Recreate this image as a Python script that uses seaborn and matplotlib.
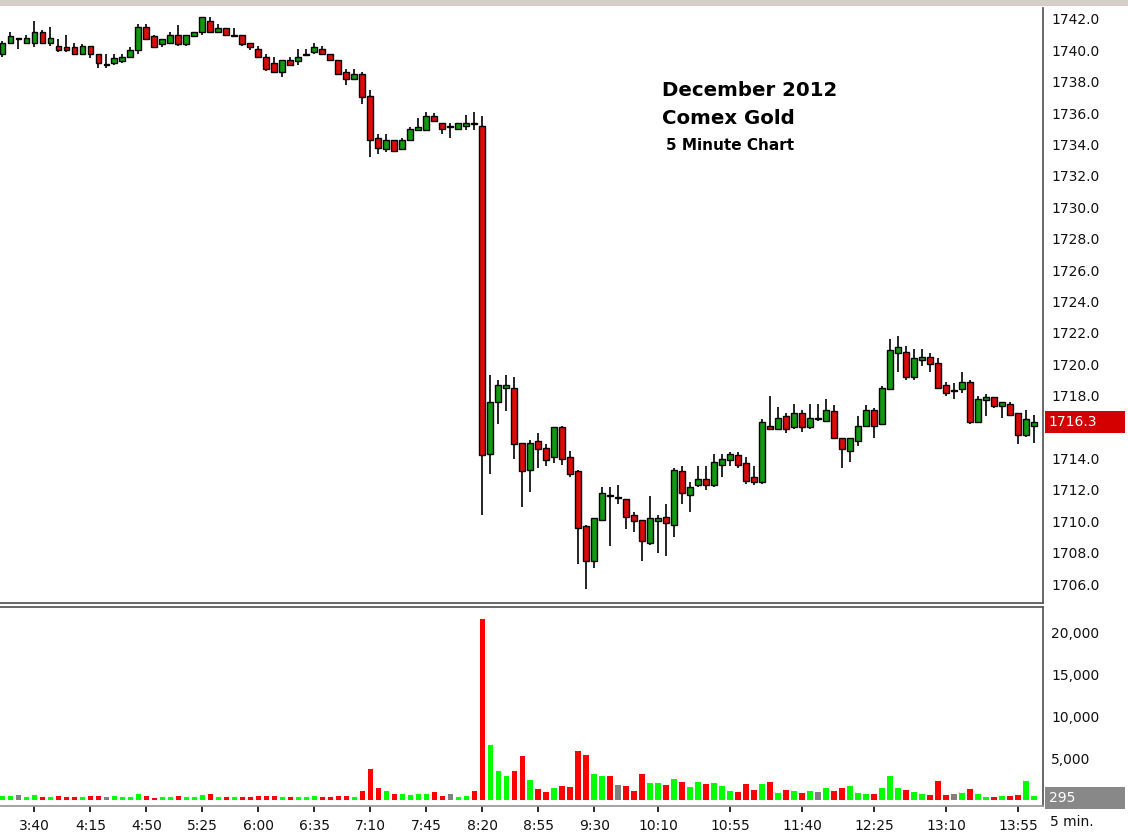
import matplotlib
matplotlib.use("Agg")
import matplotlib.pyplot as plt
import seaborn as sns
import numpy as np
from matplotlib.patches import Rectangle

opens = [1739.8,1740.5,1740.7,1740.5,1740.5,1741.2,1740.5,1740.3,1740.2,1740.2,
 1739.8,1740.3,1739.8,1739.1,1739.2,1739.3,1739.6,1740.0,1741.5,1740.9,
 1740.4,1740.5,1741.0,1740.4,1740.9,1741.2,1741.9,1741.2,1741.4,1740.9,
 1741.0,1740.5,1740.1,1739.6,1739.2,1738.6,1739.4,1739.3,1739.7,1739.9,
 1740.1,1739.8,1739.4,1738.6,1738.2,1738.5,1737.1,1734.4,1733.7,1734.3,
 1733.7,1734.3,1734.9,1734.9,1735.8,1735.4,1735.1,1735.0,1735.2,1735.4,
 1735.2,1714.3,1717.6,1718.5,1718.5,1715.0,1713.3,1715.1,1714.7,1714.1,
 1716.0,1714.1,1713.2,1709.7,1707.5,1710.1,1711.7,1711.5,1711.4,1710.4,
 1710.1,1708.6,1710.0,1710.3,1709.8,1713.2,1711.7,1712.3,1712.7,1712.3,
 1713.6,1713.9,1714.2,1713.7,1712.8,1712.5,1716.1,1715.9,1716.7,1716.0,
 1716.9,1716.0,1716.5,1716.4,1717.0,1715.3,1714.5,1715.1,1716.1,1717.1,
 1716.2,1718.4,1720.7,1720.8,1719.2,1720.3,1720.5,1720.1,1718.7,1718.3,
 1718.4,1718.9,1716.3,1717.7,1717.9,1717.35,1717.5,1716.9,1715.5,1716.1]
highs = [1740.6,1741.2,1740.8,1741.0,1741.9,1741.3,1741.5,1740.7,1741.0,1740.5,
 1740.4,1740.3,1739.8,1739.8,1739.8,1739.8,1740.2,1741.7,1741.7,1741.0,
 1740.7,1741.2,1741.6,1741.0,1741.2,1742.1,1742.1,1741.7,1741.4,1741.4,
 1741.0,1740.5,1740.3,1739.8,1739.6,1739.4,1739.6,1740.1,1740.1,1740.5,
 1740.3,1739.8,1739.4,1738.8,1738.8,1738.6,1737.5,1734.7,1734.7,1734.3,
 1734.4,1735.1,1735.7,1736.1,1736.0,1735.4,1735.4,1735.4,1735.9,1736.1,
 1735.8,1719.3,1719.0,1719.3,1719.2,1715.0,1715.2,1715.6,1714.9,1716.0,
 1716.1,1714.5,1713.3,1709.8,1710.2,1712.2,1712.2,1712.3,1711.4,1710.6,
 1710.1,1711.6,1710.4,1711.1,1713.4,1713.5,1712.5,1713.5,1713.5,1714.3,
 1714.3,1714.4,1714.4,1714.1,1713.5,1716.5,1718.0,1717.3,1716.9,1717.5,
 1717.1,1717.5,1717.5,1717.8,1717.4,1715.3,1715.3,1716.7,1717.4,1717.2,
 1718.6,1721.6,1721.8,1721.2,1721.0,1721.0,1720.7,1720.4,1718.9,1718.8,
 1719.5,1719.0,1718.0,1718.1,1717.9,1717.6,1717.6,1716.9,1717.1,1716.8]
lows = [1739.6,1740.4,1740.1,1740.4,1740.2,1740.4,1740.3,1739.9,1739.9,1739.7,
 1739.7,1739.5,1738.9,1738.9,1739.1,1739.2,1739.5,1739.8,1740.7,1740.2,
 1740.2,1740.4,1740.3,1740.3,1740.9,1741.0,1741.2,1741.2,1741.0,1740.9,
 1740.3,1740.0,1739.5,1738.7,1738.6,1738.3,1739.1,1739.1,1739.7,1739.8,
 1739.8,1739.3,1738.5,1737.8,1738.2,1736.6,1733.2,1733.4,1733.5,1733.5,
 1733.7,1734.3,1734.9,1734.9,1735.5,1734.7,1734.4,1734.9,1734.9,1734.9,
 1710.4,1713.0,1716.2,1717.0,1714.0,1710.9,1711.9,1713.4,1713.5,1713.7,
 1713.6,1712.8,1707.3,1705.7,1707.0,1710.0,1708.4,1711.1,1709.5,1709.3,
 1707.5,1708.5,1708.0,1707.8,1709.0,1711.1,1710.6,1712.2,1712.0,1712.2,
 1712.8,1713.5,1713.4,1712.4,1712.3,1712.4,1715.9,1715.9,1715.6,1715.9,
 1715.7,1715.9,1716.4,1716.4,1715.3,1713.4,1713.8,1714.8,1716.0,1715.3,
 1716.2,1718.4,1719.5,1719.0,1719.0,1719.9,1719.5,1718.5,1718.0,1717.8,
 1718.2,1716.2,1716.3,1716.7,1717.2,1716.6,1716.8,1714.9,1715.4,1715.0]
closes = [1740.5,1740.9,1740.7,1740.8,1741.2,1740.5,1740.8,1740.0,1740.0,1739.8,
 1740.3,1739.8,1739.2,1739.1,1739.5,1739.6,1740.0,1741.5,1740.7,1740.2,
 1740.7,1741.0,1740.4,1741.0,1741.2,1742.1,1741.2,1741.4,1741.0,1741.0,
 1740.4,1740.2,1739.6,1738.8,1738.6,1739.4,1739.1,1739.6,1739.8,1740.2,
 1739.8,1739.4,1738.5,1738.2,1738.5,1737.0,1734.3,1733.8,1734.3,1733.6,
 1734.3,1735.0,1735.1,1735.8,1735.5,1735.0,1735.1,1735.4,1735.4,1735.3,
 1714.2,1717.6,1718.7,1718.7,1714.9,1713.2,1715.0,1714.6,1713.9,1716.0,
 1714.0,1713.0,1709.6,1707.5,1710.2,1711.8,1711.6,1711.5,1710.3,1710.0,
 1708.75,1710.2,1710.2,1709.9,1713.3,1711.8,1712.2,1712.7,1712.3,1713.8,
 1714.0,1714.3,1713.6,1712.6,1712.5,1716.3,1715.9,1716.6,1715.9,1716.9,
 1716.0,1716.6,1716.5,1717.1,1715.3,1714.6,1715.3,1716.1,1717.1,1716.1,
 1718.5,1720.9,1721.1,1719.2,1720.4,1720.5,1720.0,1718.5,1718.2,1718.3,
 1718.9,1716.3,1717.8,1717.9,1717.35,1717.6,1716.8,1715.5,1716.5,1716.3]
volumes = [485,485,606,364,606,364,364,485,364,364,
 364,485,485,364,485,364,364,727,485,242,
 364,364,485,364,364,606,727,364,364,364,
 364,364,485,485,485,364,364,364,364,485,
 364,364,485,485,364,1090,3757,1454,1090,727,
 727,606,727,727,970,485,727,364,485,1090,
 21600,6545,3515,2909,3515,5212,2424,1333,970,1454,
 1697,1576,5818,5333,3151,2909,2909,1818,1697,1090,
 3151,2060,2060,1818,2545,2182,1576,2182,1939,2060,
 1697,1090,970,1939,1212,1939,2182,848,1212,1090,
 848,1090,970,1454,1090,1454,1697,848,727,727,
 1454,2909,1454,1212,970,727,606,2303,606,727,
 848,1333,727,364,364,485,485,606,2303,485]
time_labels = ["3:40","4:15","4:50","5:25","6:00","6:35","7:10","7:45","8:20",
               "8:55","9:30","10:10","10:55","11:40","12:25","13:10","13:55"]
time_label_index = [4,11,18,25,32,39,46,53,60,67,74,82,91,100,109,118,127]
price_ticks = [1706 + 2*k for k in range(19)]
volume_ticks = [5000, 10000, 15000, 20000]
last_price = 1716.3
last_volume = 295

sns.set_theme(style="white")
plt.rcParams['font.family'] = ['DejaVu Sans']

o = np.array(opens); c = np.array(closes); h = np.array(highs); l = np.array(lows)
x = np.arange(len(o))
up = c > o
down = c < o

W, H = 1128, 839
fig = plt.figure(figsize=(W/100, H/100), dpi=100)
fig.patch.set_facecolor("white")
def rect(l_, t_, r_, b_):
    return [l_/W, 1 - b_/H, (r_-l_)/W, (b_-t_)/H]
ax = fig.add_axes(rect(0, 8, 1043, 603))
axv = fig.add_axes(rect(0, 607, 1043, 806), sharex=ax)

PLO, PHI = 1704.8, 1742.7
VLO, VHI = -700, 23000

ax.vlines(x, l, h, color="black", linewidth=1.2, zorder=1)
body_bottom = np.minimum(o, c)
body_h = np.maximum(np.abs(c - o), 0.06)
cols = np.where(up, "#109a10", np.where(down, "#dd0a0a", "black"))
ax.bar(x, body_h, bottom=body_bottom, width=0.72, color=cols,
       edgecolor="black", linewidth=1.0, zorder=2)
ax.set_xlim(-0.3, 130.1)
ax.set_ylim(PLO, PHI)

vcols = np.where(up, "#00ff00", np.where(down, "#ff0000", "#808080"))
axv.bar(x, volumes, width=0.7, color=vcols, linewidth=0)
axv.set_ylim(VLO, VHI)

for a in (ax, axv):
    a.yaxis.tick_right()
    a.tick_params(axis="y", length=0, labelsize=10, pad=6, colors="#111111")
    for s in a.spines.values():
        s.set_visible(False)
    a.spines["right"].set_visible(True)
    a.spines["right"].set_color("#555555")
    a.set_facecolor("white")
ax.spines["bottom"].set_visible(True); ax.spines["bottom"].set_color("#555555")
axv.spines["top"].set_visible(True); axv.spines["top"].set_color("#555555")
axv.spines["bottom"].set_visible(True); axv.spines["bottom"].set_color("#999999")

ax.set_yticks(price_ticks)
ax.set_yticklabels([f"{p:.1f}" for p in price_ticks])
ax.tick_params(axis="x", bottom=False, labelbottom=False)
axv.set_yticks(volume_ticks)
axv.set_yticklabels([f"{v:,}" for v in volume_ticks])
axv.set_xticks(time_label_index)
axv.set_xticklabels(time_labels)
axv.tick_params(axis="x", bottom=True, length=4, labelsize=10, pad=5, colors="#111111")

def side_box(axis, yval, lo, hi, text, color):
    fy = (yval - lo) / (hi - lo)
    axis.add_patch(Rectangle((1.002, fy), 0.077, 0, transform=axis.transAxes,
                             clip_on=False))
    # box as a full-width rectangle in axes coords, 22px tall
    ax_h_px = axis.get_position().height * H
    hh = 22 / ax_h_px
    axis.add_patch(Rectangle((1.002, fy - hh/2), 0.077, hh, transform=axis.transAxes,
                             fc=color, ec="none", clip_on=False, zorder=10))
    axis.text(1.0055, fy, text, transform=axis.transAxes, va="center", ha="left",
              fontsize=10, color="white", zorder=11)

side_box(ax, last_price, PLO, PHI, f"{last_price:.1f}", "#d40000")
side_box(axv, last_volume, VLO, VHI, f"{last_volume}", "#888888")
fig.text(1050/W, 1 - 822/H, "5 min.", fontsize=10, va="center", ha="left", color="#111111")

fig.text(662/W, 1 - 90/H, "December 2012", fontsize=14.2, fontweight="bold", va="center", color="black")
fig.text(662/W, 1 - 119/H, "Comex Gold", fontsize=14.2, fontweight="bold", va="center", color="black")
fig.text(666/W, 1 - 146/H, "5 Minute Chart", fontsize=11, fontweight="bold", va="center", color="black")

fig.patches.append(Rectangle((0, 1 - 6/H), 1, 6/H, transform=fig.transFigure,
                             fc="#d4d0c8", ec="none"))
fig.savefig("out.png", dpi=100)
